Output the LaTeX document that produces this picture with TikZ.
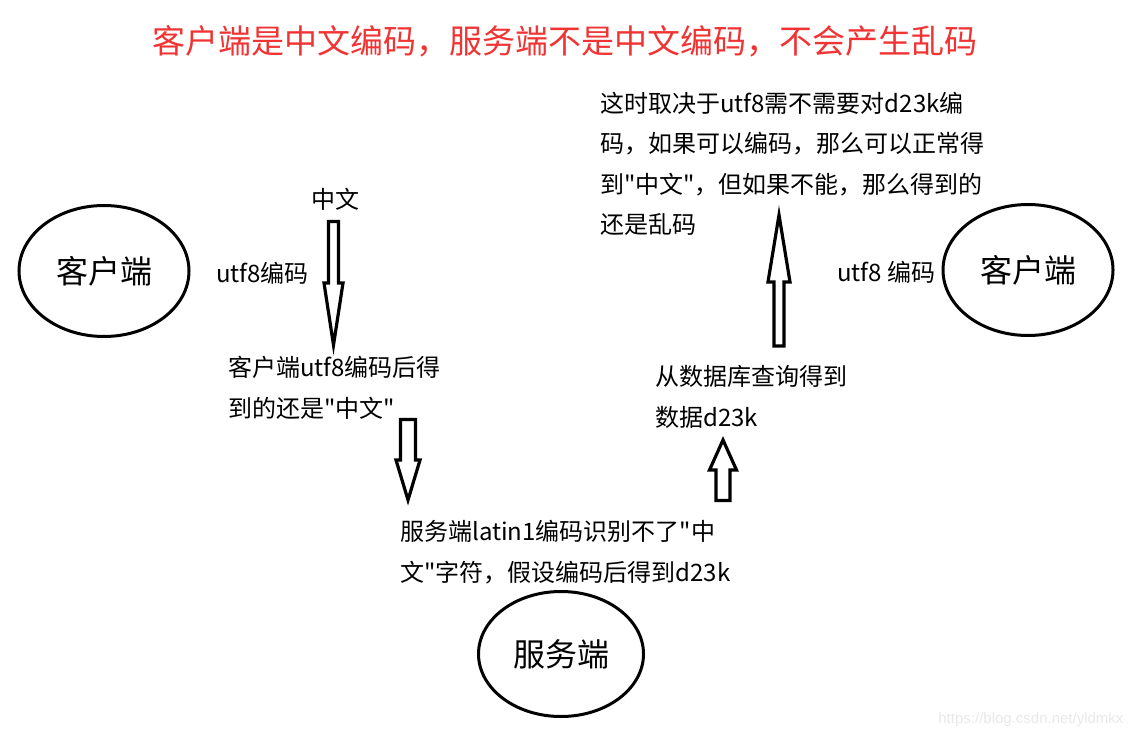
\documentclass[tikz,border=0pt]{standalone}
\usepackage{fontspec}
\newfontfamily\cjk{Noto Sans CJK SC}
\newfontfamily\wmfont{Liberation Sans}
\usetikzlibrary{shapes.geometric,calc}
\definecolor{titlered}{RGB}{240,52,52}
% hollow block arrow: from, to, shaft half width, head half width, head length
\newcommand{\hollowarrow}[5]{%
  \draw[blockline] let \p1=(#1), \p2=(#2), \p3=($(#2)!#5!(#1)$) in
    (\x1-#3,\y1) -- (\x1+#3,\y1) -- (\x1+#3,\y3) -- (\x1+#4,\y3)
    -- (\x2,\y2) -- (\x1-#4,\y3) -- (\x1-#3,\y3) -- cycle;}

\begin{document}
\begin{tikzpicture}[x=1pt,y=-1pt,
  side/.style={ellipse,draw,line width=3pt,minimum width=170pt,minimum height=131pt,
    inner sep=0pt,font=\cjk\fontsize{32}{36}\selectfont},
  note/.style={anchor=base west,align=left,inner sep=0pt,font=\cjk\fontsize{24}{40.5}\selectfont},
  blockline/.style={line width=3.2pt,line join=miter}]
\useasboundingbox (0,0) rectangle (1137,735);
\node[anchor=base,text=titlered,font=\cjk\fontsize{33}{36}\selectfont] (title) at (565,54)
  {客户端是中文编码，服务端不是中文编码，不会产生乱码};
% the three ends
\node[side] (client) at (104,271) {客户端};
\node[side] (client2) at (1028,270) {客户端};
\node[side,minimum width=165pt,minimum height=125pt] (server) at (561,654) {服务端};
% labels (base = last line)
\node[note] (enc1) at (216,282) {utf8编码};
\node[note] (enc2) at (837,281) {utf8 编码};
\node[note,anchor=base] (zh) at (335,209) {中文};
\node[note] (step1) at (228,417) {客户端utf8编码后得\\到的还是"中文"};
\node[note] (step2) at (400,581) {服务端latin1编码识别不了"中\\文"字符，假设编码后得到d23k};
\node[note] (step3) at (655,426) {从数据库查询得到\\数据d23k};
\node[note] (step4) at (600,234) {这时取决于utf8需不需要对d23k编\\码，如果可以编码，那么可以正常得\\到"中文"，但如果不能，那么得到的\\还是乱码};
\node[anchor=base east,text=black!9,font=\wmfont\fontsize{15}{18}\selectfont] (mark) at (1127,723)
  {https://blog.csdn.net/yldmkx};
% block arrows
\coordinate (a1s) at (333.5,221.5); \coordinate (a1e) at (333.5,345);
\coordinate (a2s) at (408,419.5);   \coordinate (a2e) at (408,500);
\coordinate (a3s) at (723,500.5);   \coordinate (a3e) at (723,440);
\coordinate (a4s) at (779,346);     \coordinate (a4e) at (779,215);
\hollowarrow{a1s}{a1e}{5pt}{9.5pt}{62pt}
\hollowarrow{a2s}{a2e}{7.5pt}{12pt}{40pt}
\hollowarrow{a3s}{a3e}{7pt}{13.5pt}{30pt}
\hollowarrow{a4s}{a4e}{5pt}{11pt}{67pt}
\end{tikzpicture}
\end{document}
